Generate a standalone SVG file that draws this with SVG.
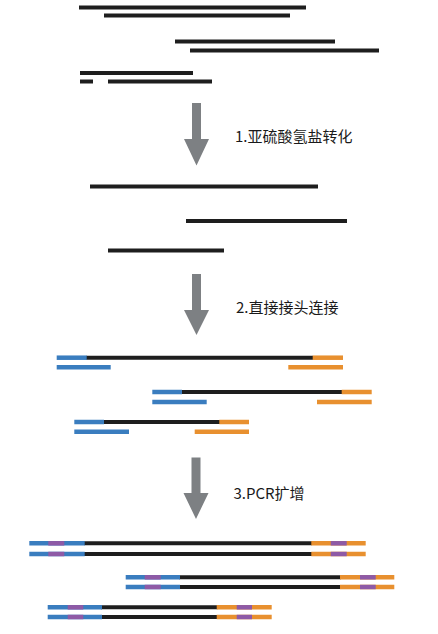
<svg xmlns="http://www.w3.org/2000/svg" width="438" height="634" viewBox="0 0 438 634">
<defs>
<style>
.k{stroke:#1e1e1e;stroke-width:4}
.b{stroke:#3a7dbf;stroke-width:4.5}
.o{stroke:#e8902f;stroke-width:4.5}
.p{stroke:#8e5aa6;stroke-width:4.5}
.kk{stroke:#1e1e1e;stroke-width:4}
.ar{fill:#7d8083}
.t{font-family:"Noto Sans CJK SC","Noto Sans",sans-serif;font-size:15px;fill:#1a1a1a}
</style>
</defs>
<rect width="438" height="634" fill="#fff"/>

<g id="stage1-dna">
<line class="k" x1="79" y1="7.5" x2="306" y2="7.5"/>
<line class="k" x1="104" y1="15.5" x2="290" y2="15.5"/>
<line class="k" x1="175" y1="41.5" x2="335" y2="41.5"/>
<line class="k" x1="190" y1="50.5" x2="379" y2="50.5"/>
<line class="k" x1="80" y1="73" x2="193" y2="73"/>
<line class="k" x1="80" y1="81.5" x2="93" y2="81.5"/>
<line class="k" x1="108" y1="81.5" x2="212" y2="81.5"/>
</g>

<g id="stage2-dna">
<line class="k" x1="90" y1="186.5" x2="318" y2="186.5"/>
<line class="k" x1="186" y1="221" x2="347" y2="221"/>
<line class="k" x1="108" y1="250.5" x2="224" y2="250.5"/>
</g>

<g id="stage3-adapters">
<g id="frag3-1">
<line class="kk" x1="86" y1="357.7" x2="313" y2="357.7"/>
<line class="b" x1="56.7" y1="357.7" x2="86.7" y2="357.7"/>
<line class="o" x1="312.7" y1="357.7" x2="343" y2="357.7"/>
<line class="b" x1="56.7" y1="367.3" x2="110.7" y2="367.3"/>
<line class="o" x1="288.3" y1="367.3" x2="343" y2="367.3"/>
</g>
<g id="frag3-2">
<line class="kk" x1="181" y1="392" x2="342" y2="392"/>
<line class="b" x1="152.3" y1="392" x2="182" y2="392"/>
<line class="o" x1="341.7" y1="392" x2="371.7" y2="392"/>
<line class="b" x1="152.3" y1="402" x2="206.7" y2="402"/>
<line class="o" x1="317" y1="402" x2="371.7" y2="402"/>
</g>
<g id="frag3-3">
<line class="kk" x1="103" y1="422" x2="220" y2="422"/>
<line class="b" x1="74.3" y1="422" x2="104" y2="422"/>
<line class="o" x1="219.3" y1="422" x2="249" y2="422"/>
<line class="b" x1="74.3" y1="431.7" x2="129" y2="431.7"/>
<line class="o" x1="194.7" y1="431.7" x2="249" y2="431.7"/>
</g>
</g>

<g id="stage4-pcr">
<g id="frag4-1">
<line class="kk" x1="84" y1="543.3" x2="312" y2="543.3"/>
<line class="b" x1="29.3" y1="543.3" x2="84.7" y2="543.3"/>
<line class="p" x1="48.3" y1="543.3" x2="64.3" y2="543.3"/>
<line class="o" x1="311.3" y1="543.3" x2="365.7" y2="543.3"/>
<line class="p" x1="330.7" y1="543.3" x2="346.7" y2="543.3"/>
<line class="kk" x1="84" y1="554" x2="312" y2="554"/>
<line class="b" x1="29.3" y1="554" x2="84.7" y2="554"/>
<line class="p" x1="48.3" y1="554" x2="64.3" y2="554"/>
<line class="o" x1="311.3" y1="554" x2="365.7" y2="554"/>
<line class="p" x1="330.7" y1="554" x2="346.7" y2="554"/>
</g>
<g id="frag4-2">
<line class="kk" x1="179" y1="577.3" x2="341" y2="577.3"/>
<line class="b" x1="125.7" y1="577.3" x2="180" y2="577.3"/>
<line class="p" x1="144.7" y1="577.3" x2="160.7" y2="577.3"/>
<line class="o" x1="340" y1="577.3" x2="394.3" y2="577.3"/>
<line class="p" x1="360" y1="577.3" x2="375.7" y2="577.3"/>
<line class="kk" x1="179" y1="587" x2="341" y2="587"/>
<line class="b" x1="125.7" y1="587" x2="180" y2="587"/>
<line class="p" x1="144.7" y1="587" x2="160.7" y2="587"/>
<line class="o" x1="340" y1="587" x2="394.3" y2="587"/>
<line class="p" x1="360" y1="587" x2="375.7" y2="587"/>
</g>
<g id="frag4-3">
<line class="kk" x1="101" y1="607.3" x2="217.5" y2="607.3"/>
<line class="b" x1="47.7" y1="607.3" x2="102" y2="607.3"/>
<line class="p" x1="67.7" y1="607.3" x2="83.3" y2="607.3"/>
<line class="o" x1="216.7" y1="607.3" x2="271.7" y2="607.3"/>
<line class="p" x1="236.7" y1="607.3" x2="252" y2="607.3"/>
<line class="kk" x1="101" y1="617" x2="217.5" y2="617"/>
<line class="b" x1="47.7" y1="617" x2="102" y2="617"/>
<line class="p" x1="67.7" y1="617" x2="83.3" y2="617"/>
<line class="o" x1="216.7" y1="617" x2="271.7" y2="617"/>
<line class="p" x1="236.7" y1="617" x2="252" y2="617"/>
</g>
</g>

<g id="connectors">
<polygon class="ar" points="192,103 201,103 201,139 209,139 196.5,165.5 184,139 192,139"/>
<polygon class="ar" points="192,274 201,274 201,310 209,310 196.5,335 184,310 192,310"/>
<polygon class="ar" points="191.5,457.5 200.5,457.5 200.5,493 208.5,493 196,519 183.5,493 191.5,493"/>
</g>

<g id="labels">
<text class="t" x="235" y="142">1.亚硫酸氢盐转化</text>
<text class="t" x="236" y="313">2.直接接头连接</text>
<text class="t" x="233.5" y="499">3.PCR扩增</text>
</g>
</svg>
